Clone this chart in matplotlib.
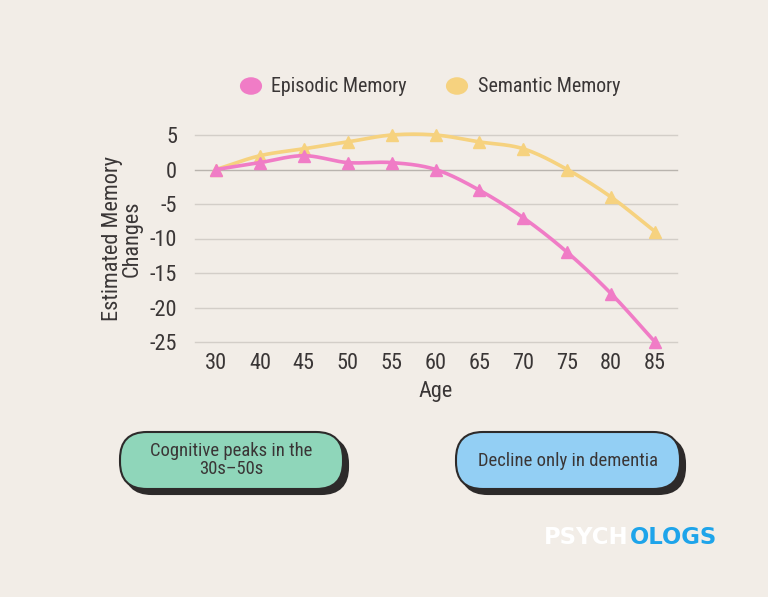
import numpy as np
import matplotlib.pyplot as plt
from matplotlib import font_manager as fm
from matplotlib.patches import FancyBboxPatch

ages = ['30', '40', '45', '50', '55', '60', '65', '70', '75', '80', '85']
episodic = [0, 1, 2, 1, 1, 0, -3, -7, -12, -18, -25]
semantic = [0, 2, 3, 4, 5, 5, 4, 3, 0, -4, -9]
y_ticks = [5, 0, -5, -10, -15, -20, -25]

bg = '#f2ede7'
pink = '#f07cc6'
yellow = '#f6d27f'
text_col = '#3a3636'

# the reference uses a narrow font; pick one if the system has it
narrow = None
for f in fm.fontManager.ttflist:
    if f.weight in (400, 'normal', 'regular') and f.style == 'normal' and \
            ('Narrow' in f.name or 'Condensed' in f.name or 'condensed' in str(f.stretch)):
        narrow = f
        if 'Roboto' in f.name or 'Liberation' in f.name:
            break
if narrow is not None:
    plt.rcParams['font.family'] = [narrow.name, 'DejaVu Sans']
    plt.rcParams['font.stretch'] = narrow.stretch
    scale = 1.0
else:
    plt.rcParams['font.family'] = ['Roboto', 'DejaVu Sans']
    scale = 0.88


def smooth(x, y, n=20):
    # catmull-rom curve through the points, only for the line shape
    x = np.asarray(x, float)
    y = np.asarray(y, float)
    px = np.concatenate([[2 * x[0] - x[1]], x, [2 * x[-1] - x[-2]]])
    py = np.concatenate([[2 * y[0] - y[1]], y, [2 * y[-1] - y[-2]]])
    xs, ys = [], []
    t = np.linspace(0, 1, n, endpoint=False)
    for i in range(1, len(px) - 2):
        for p, out in ((px, xs), (py, ys)):
            p0, p1, p2, p3 = p[i - 1], p[i], p[i + 1], p[i + 2]
            out.extend(0.5 * (2 * p1 + (-p0 + p2) * t + (2 * p0 - 5 * p1 + 4 * p2 - p3) * t ** 2
                              + (-p0 + 3 * p1 - 3 * p2 + p3) * t ** 3))
    xs.append(x[-1])
    ys.append(y[-1])
    return np.array(xs), np.array(ys)


fig = plt.figure(figsize=(7.68, 5.97), dpi=100, facecolor=bg)
ax = fig.add_axes([195 / 768, 1 - 342 / 597, (677 - 195) / 768, (342 - 135) / 597])
ax.set_facecolor(bg)

idx = np.arange(len(ages))
for vals, col in ((semantic, yellow), (episodic, pink)):
    sx, sy = smooth(idx, vals)
    ax.plot(sx, sy, color=col, lw=2.6, clip_on=False, solid_capstyle='round')
    ax.plot(idx, vals, ls='none', marker='^', ms=8, color=col, clip_on=False)

ax.set_xlim(-0.48, 10.5)
ax.set_ylim(-25, 5)
ax.set_yticks(y_ticks)
ax.set_yticklabels([str(v) for v in y_ticks])
ax.set_xticks(idx)
ax.set_xticklabels(ages)
for v in y_ticks:
    ax.axhline(v, color='#b9b4ae' if v == 0 else '#d3cec8', lw=1, zorder=0, clip_on=False)
for s in ax.spines.values():
    s.set_visible(False)
ax.tick_params(length=0, labelsize=16 * scale, labelcolor=text_col, pad=8)
ax.tick_params(axis='y', pad=13)
ax.set_xlabel('Age', fontsize=16 * scale, color=text_col, labelpad=5)
ax.set_ylabel('Estimated Memory\nChanges', fontsize=16 * scale, color=text_col, labelpad=5,
              linespacing=0.9)

# legend
fs = 14.4 * scale
fig.patches.append(plt.Circle((251 / 768, 1 - 86 / 597), 0.0135, transform=fig.transFigure,
                              color=pink, figure=fig))
fig.text(271 / 768, 1 - 86 / 597, 'Episodic Memory', fontsize=fs, color=text_col, va='center')
fig.patches.append(plt.Circle((457 / 768, 1 - 86 / 597), 0.0135, transform=fig.transFigure,
                              color=yellow, figure=fig))
fig.text(478 / 768, 1 - 86 / 597, 'Semantic Memory', fontsize=fs, color=text_col, va='center')


def note_box(x0, x1, y0, y1, face, label):
    w, h = (x1 - x0) / 768, (y1 - y0) / 597
    fx, fy = x0 / 768, 1 - y1 / 597
    for off, fc in ((5, '#2d2a2a'), (0, face)):
        box = FancyBboxPatch((fx + off / 768, fy - off / 597), w, h,
                             boxstyle='round,pad=0,rounding_size=0.035',
                             transform=fig.transFigure, facecolor=fc,
                             edgecolor='#2d2a2a', lw=1.5, mutation_aspect=768 / 597)
        fig.patches.append(box)
    fig.text(fx + w / 2, fy + h / 2, label, ha='center', va='center', fontsize=13.4 * scale,
             color=text_col, linespacing=1.0)


note_box(120, 343, 432, 489, '#8fd6ba', 'Cognitive peaks in the\n30s–50s')
note_box(456, 680, 432, 489, '#93cff4', 'Decline only in dementia')

# logo
t1 = fig.text(544 / 768, 1 - 538 / 597, 'PSYCH', fontsize=16.4, fontweight='bold', color='white',
              va='center', family='DejaVu Sans', fontstretch='normal')
ax.annotate('OLOGS', xy=(1, 0.5), xycoords=t1, xytext=(1, 0), textcoords='offset points',
            ha='left', va='center', fontsize=16.4, fontweight='bold', color='#1ea4ea',
            family='DejaVu Sans', fontstretch='normal', annotation_clip=False)

fig.savefig('out.png', dpi=100, facecolor=bg)
